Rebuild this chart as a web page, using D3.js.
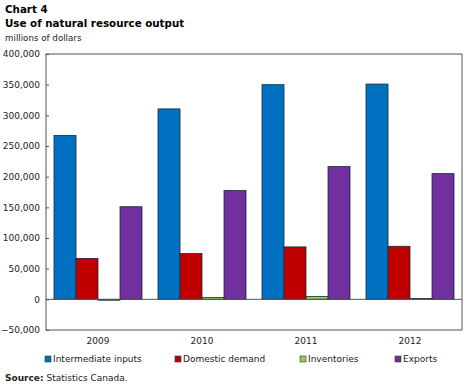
<!DOCTYPE html>
<html>
<head>
<meta charset="utf-8">
<script src="https://cdn.jsdelivr.net/npm/d3@7"></script>
<style>
  body { margin: 0; background: #fff; }
  svg { display: block; font-family: Verdana, "DejaVu Sans", sans-serif; }
</style>
</head>
<body>
<svg id="chart" width="474" height="386"></svg>
<script>
const years = ['2009', '2010', '2011', '2012'];
const seriesNames = ['Intermediate inputs', 'Domestic demand', 'Inventories', 'Exports'];
const intermediateInputs = [267000, 310500, 350000, 351000];
const domesticDemand = [66800, 74800, 85500, 86500];
const inventories = [-1500, 3000, 4500, 1500];
const exportsValues = [151000, 177500, 216500, 205000];
const yTicks = [-50000, 0, 50000, 100000, 150000, 200000, 250000, 300000, 350000, 400000];
const colors = ['#0070c0', '#c00000', '#92d050', '#7030a0'];

const allSeries = [intermediateInputs, domesticDemand, inventories, exportsValues];
const rows = years.map((year, i) => ({
  year,
  values: seriesNames.map((name, j) => ({ name, value: allSeries[j][i], color: colors[j] })),
}));

const margin = { top: 54, right: 12, bottom: 56, left: 46 };
const width = 474;
const height = 386;
const plotW = width - margin.left - margin.right;
const plotH = height - margin.top - margin.bottom;

const svg = d3.select('#chart');

// titles
svg.append('text').attr('x', 5).attr('y', 13)
  .attr('font-size', 10.3).attr('font-weight', 'bold').attr('fill', '#000').text('Chart 4');
svg.append('text').attr('x', 5).attr('y', 27)
  .attr('font-size', 10.3).attr('font-weight', 'bold').attr('fill', '#000').text('Use of natural resource output');
svg.append('text').attr('x', 5).attr('y', 41)
  .attr('font-size', 8.7).attr('fill', '#222').text('millions of dollars');

const g = svg.append('g').attr('transform', `translate(${margin.left},${margin.top})`);

const y = d3.scaleLinear().domain([-50000, 400000]).range([plotH, 0]);
const x0 = d3.scaleBand().domain(years).range([0, plotW]);
const x1 = d3.scaleBand().domain(seriesNames).range([8, x0.bandwidth() - 8]);

// y axis
const yAxis = g.append('g')
  .call(d3.axisLeft(y).tickValues(yTicks).tickSize(-3).tickPadding(6).tickFormat(d3.format(',')));
yAxis.select('.domain').remove();
yAxis.selectAll('line').attr('stroke', '#555');
yAxis.selectAll('text').attr('font-size', 9).attr('fill', '#222')
  .style('font-family', 'Verdana, "DejaVu Sans", sans-serif');

// bars
const groups = g.selectAll('.grp').data(rows).enter().append('g')
  .attr('class', 'grp')
  .attr('transform', (d) => `translate(${x0(d.year)},0)`);

groups.selectAll('rect').data((d) => d.values).enter().append('rect')
  .attr('x', (d) => x1(d.name))
  .attr('y', (d) => y(Math.max(0, d.value)))
  .attr('width', x1.bandwidth())
  .attr('height', (d) => Math.abs(y(d.value) - y(0)))
  .attr('fill', (d) => d.color)
  .attr('stroke', '#1a2a3a')
  .attr('stroke-width', 0.8);

// zero line
g.append('line')
  .attr('x1', 0).attr('x2', plotW)
  .attr('y1', y(0)).attr('y2', y(0))
  .attr('stroke', '#555').attr('stroke-width', 1);

// frame
g.append('rect')
  .attr('x', 0).attr('y', 0).attr('width', plotW).attr('height', plotH)
  .attr('fill', 'none').attr('stroke', '#555').attr('stroke-width', 1);

// x axis labels
const xAxis = g.append('g').attr('transform', `translate(0,${plotH})`)
  .call(d3.axisBottom(x0).tickSize(0).tickPadding(8));
xAxis.select('.domain').remove();
xAxis.selectAll('text').attr('font-size', 9).attr('fill', '#222')
  .style('font-family', 'Verdana, "DejaVu Sans", sans-serif');

// legend
const legendX = [45, 175, 300, 395];
const legend = svg.append('g').attr('transform', 'translate(0,362)');
seriesNames.forEach((name, i) => {
  legend.append('rect')
    .attr('x', legendX[i]).attr('y', -6).attr('width', 6).attr('height', 6)
    .attr('fill', colors[i]).attr('stroke', '#333').attr('stroke-width', 0.6);
  legend.append('text')
    .attr('x', legendX[i] + 8).attr('y', 0)
    .attr('font-size', 9).attr('fill', '#222').text(name);
});

// source
const src = svg.append('text').attr('x', 5).attr('y', 381).attr('font-size', 9).attr('fill', '#222');
src.append('tspan').attr('font-weight', 'bold').text('Source:');
src.append('tspan').text(' Statistics Canada.');
</script>
</body>
</html>
